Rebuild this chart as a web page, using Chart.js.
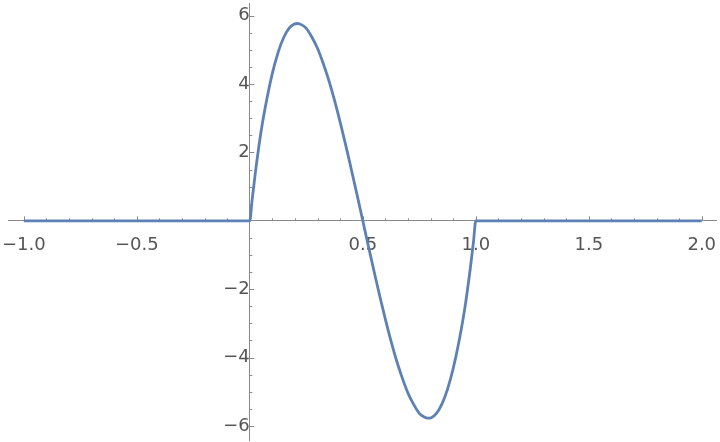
<!DOCTYPE html>
<html>
<head>
<meta charset="utf-8">
<script src="https://cdn.jsdelivr.net/npm/chart.js@4"></script>
<style>
    html, body { margin: 0; padding: 0; background: #fff; }
    #wrap { width: 720px; height: 442px; }
</style>
</head>
<body>
<div id="wrap"><canvas id="plotChart"></canvas></div>
<script>
// values
const xValues = [-1, 0, 0.01, 0.025, 0.05, 0.075, 0.1, 0.125, 0.15, 0.175, 0.195, 0.211, 0.23, 0.25, 0.275, 0.3, 0.325, 0.35, 0.375, 0.4, 0.425, 0.45, 0.475, 0.5,
                 0.525, 0.55, 0.575, 0.6, 0.625, 0.65, 0.675, 0.7, 0.725, 0.75, 0.77, 0.789, 0.805, 0.825, 0.85, 0.875, 0.9, 0.925, 0.95, 0.975, 0.99, 1, 2];
const yValues = [0, 0, 0.6, 1.43, 2.62, 3.55, 4.32, 4.92, 5.36, 5.64, 5.75, 5.77, 5.73, 5.63, 5.37, 5.04, 4.6, 4.1, 3.52, 2.88, 2.2, 1.48, 0.75, 0,
                 -0.75, -1.48, -2.2, -2.88, -3.52, -4.1, -4.6, -5.04, -5.37, -5.63, -5.73, -5.77, -5.75, -5.64, -5.36, -4.92, -4.32, -3.55, -2.62, -1.43, -0.6, 0, 0];

const xTickLabels = [-1.0, -0.5, 0.5, 1.0, 1.5, 2.0];
const yTickLabels = [-6, -4, -2, 2, 4, 6];

const axisColor = '#8a8a8a';
const labelColor = '#555555';

function fmt(v, digits) {
    const s = Math.abs(v).toFixed(digits);
    return v < 0 ? '\u2212' + s : s;
}

// labels sit inside the plot, so the axes should not push the chart area in
function noPadding(scale) {
    scale.paddingLeft = 0;
    scale.paddingRight = 0;
    scale.paddingTop = 0;
    scale.paddingBottom = 0;
}

// Mathematica style ticks, pointing into the plot
const innerTicks = {
    id: 'innerTicks',
    beforeDatasetsDraw(chart) {
        const { ctx, scales: { x, y } } = chart;
        const x0 = x.getPixelForValue(0);
        const y0 = y.getPixelForValue(0);
        ctx.save();
        ctx.strokeStyle = axisColor;
        ctx.lineWidth = 1;
        ctx.beginPath();
        for (let i = -10; i <= 20; i++) {
            if (i === 0) continue;
            const px = Math.round(x.getPixelForValue(i / 10)) + 0.5;
            const len = i % 5 === 0 ? 4.5 : 2.5;
            ctx.moveTo(px, y0);
            ctx.lineTo(px, y0 - len);
        }
        for (let j = -12; j <= 12; j++) {
            if (j === 0) continue;
            const py = Math.round(y.getPixelForValue(j / 2)) + 0.5;
            const len = j % 4 === 0 ? 4.5 : 2.5;
            ctx.moveTo(x0, py);
            ctx.lineTo(x0 + len, py);
        }
        ctx.stroke();
        ctx.restore();
    }
};

const ctx = document.getElementById('plotChart').getContext('2d');
new Chart(ctx, {
    type: 'line',
    data: {
        datasets: [{
            data: xValues.map((v, i) => ({ x: v, y: yValues[i] })),
            borderColor: '#5e81b5',
            borderWidth: 2.8,
            pointRadius: 0,
            fill: false,
            cubicInterpolationMode: 'monotone'
        }]
    },
    options: {
        responsive: true,
        maintainAspectRatio: false,
        animation: false,
        layout: { padding: { left: 8, right: 4, top: 3, bottom: 2 } },
        plugins: {
            legend: { display: false },
            tooltip: { enabled: false }
        },
        scales: {
            x: {
                type: 'linear',
                position: { y: 0 },
                min: -1.07,
                max: 2.063,
                afterBuildTicks: (scale) => { scale.ticks = xTickLabels.map(v => ({ value: v })); },
                afterFit: noPadding,
                grid: { display: false },
                border: { color: axisColor, width: 1 },
                ticks: {
                    autoSkip: false,
                    maxRotation: 0,
                    padding: 6,
                    color: labelColor,
                    font: { family: 'DejaVu Sans', size: 18 },
                    callback: (v) => fmt(v, 1)
                }
            },
            y: {
                type: 'linear',
                position: { x: 0 },
                min: -6.41,
                max: 6.37,
                afterBuildTicks: (scale) => { scale.ticks = yTickLabels.map(v => ({ value: v })); },
                afterFit: noPadding,
                grid: { display: false },
                border: { color: axisColor, width: 1 },
                ticks: {
                    autoSkip: false,
                    padding: 9,
                    color: labelColor,
                    font: { family: 'DejaVu Sans', size: 18 },
                    callback: (v) => fmt(v, 0)
                }
            }
        }
    },
    plugins: [innerTicks]
});
</script>
</body>
</html>
